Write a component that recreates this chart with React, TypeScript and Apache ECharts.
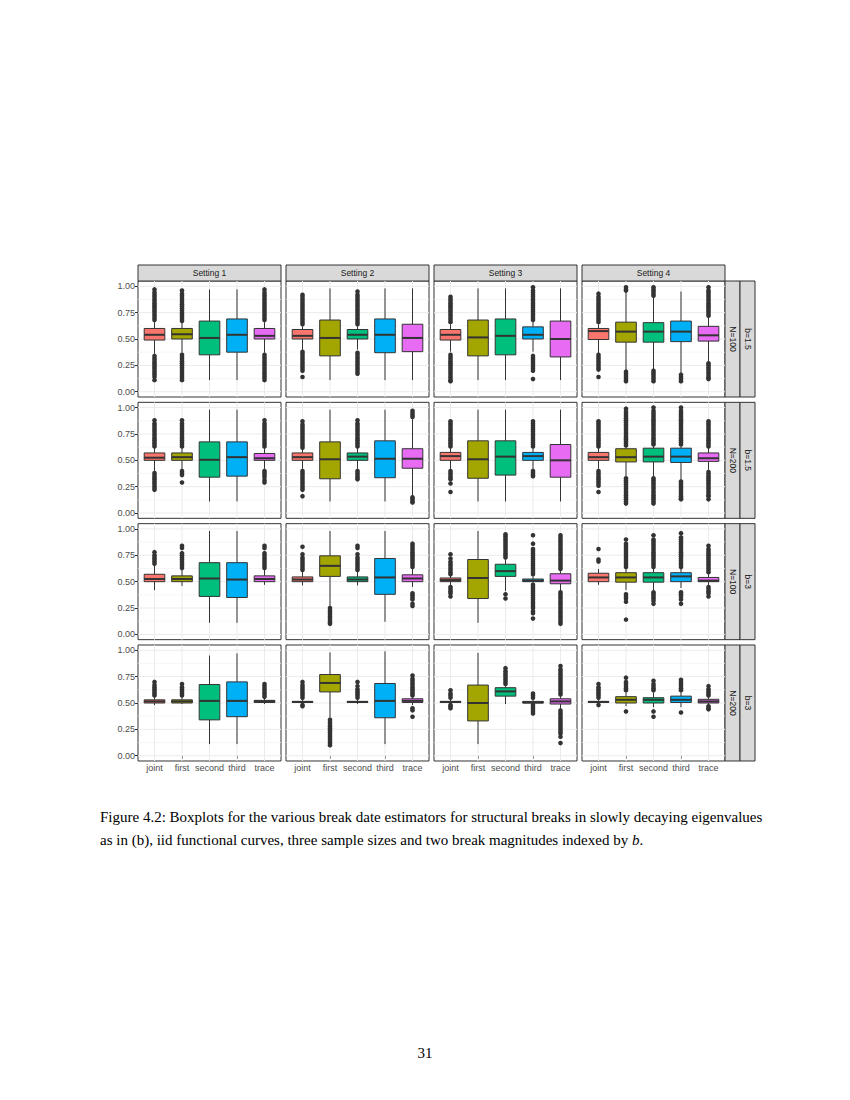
import React, { useEffect, useRef } from "react";
import * as echarts from "echarts";

// ---------- data ----------
const categories = ["joint", "first", "second", "third", "trace"];
const settings = ["Setting 1", "Setting 2", "Setting 3", "Setting 4"];
const sampleSizes = ["N=100", "N=200", "N=100", "N=200"];
const magnitudes = ["b=1.5", "b=1.5", "b=3", "b=3"];
const yTicks = [0, 0.25, 0.5, 0.75, 1];
const yMinorTicks = [0.125, 0.375, 0.625, 0.875];
const fills = ["#F8766D", "#A3A500", "#00BF7D", "#00B0F6", "#E76BF3"];

// box statistics per estimator: [lower whisker, Q1, median, Q3, upper whisker]
const boxR1S1 = [[0.36, 0.49, 0.54, 0.6, 0.66], [0.37, 0.5, 0.545, 0.6, 0.65], [0.11, 0.35, 0.51, 0.67, 0.97], [0.11, 0.375, 0.54, 0.69, 0.97], [0.37, 0.5, 0.53, 0.6, 0.66]];
const boxR1S2 = [[0.4, 0.5, 0.53, 0.59, 0.62], [0.11, 0.34, 0.51, 0.68, 0.98], [0.4, 0.5, 0.54, 0.59, 0.62], [0.11, 0.37, 0.54, 0.69, 0.98], [0.11, 0.38, 0.51, 0.64, 0.98]];
const boxR1S3 = [[0.38, 0.49, 0.54, 0.59, 0.64], [0.11, 0.34, 0.515, 0.68, 0.98], [0.11, 0.35, 0.53, 0.69, 0.98], [0.38, 0.5, 0.54, 0.615, 0.66], [0.11, 0.33, 0.5, 0.67, 0.98]];
const boxR1S4 = [[0.36, 0.495, 0.575, 0.6, 0.64], [0.2, 0.47, 0.57, 0.66, 0.95], [0.21, 0.47, 0.57, 0.655, 0.89], [0.17, 0.475, 0.57, 0.67, 0.95], [0.29, 0.48, 0.535, 0.62, 0.7]];
const boxR2S1 = [[0.4, 0.5, 0.525, 0.57, 0.61], [0.42, 0.5, 0.53, 0.57, 0.61], [0.11, 0.34, 0.505, 0.675, 0.98], [0.11, 0.35, 0.53, 0.675, 0.98], [0.42, 0.5, 0.52, 0.565, 0.61]];
const boxR2S2 = [[0.42, 0.5, 0.53, 0.57, 0.6], [0.11, 0.325, 0.51, 0.675, 0.98], [0.42, 0.5, 0.535, 0.57, 0.61], [0.11, 0.335, 0.515, 0.685, 0.98], [0.16, 0.425, 0.515, 0.61, 0.89]];
const boxR2S3 = [[0.42, 0.5, 0.54, 0.575, 0.61], [0.11, 0.33, 0.51, 0.685, 0.98], [0.11, 0.36, 0.535, 0.685, 0.98], [0.42, 0.5, 0.54, 0.575, 0.61], [0.11, 0.34, 0.5, 0.65, 0.98]];
const boxR2S4 = [[0.42, 0.5, 0.53, 0.575, 0.61], [0.35, 0.485, 0.53, 0.61, 0.62], [0.35, 0.485, 0.535, 0.615, 0.63], [0.32, 0.48, 0.535, 0.615, 0.63], [0.41, 0.49, 0.52, 0.57, 0.61]];
const boxR3S1 = [[0.42, 0.5, 0.525, 0.57, 0.65], [0.46, 0.5, 0.525, 0.555, 0.61], [0.11, 0.36, 0.53, 0.68, 0.98], [0.11, 0.35, 0.52, 0.68, 0.98], [0.47, 0.5, 0.525, 0.555, 0.61]];
const boxR3S2 = [[0.465, 0.5, 0.52, 0.545, 0.59], [0.27, 0.55, 0.65, 0.745, 0.98], [0.465, 0.5, 0.52, 0.545, 0.59], [0.12, 0.38, 0.54, 0.72, 0.98], [0.45, 0.5, 0.53, 0.565, 0.62]];
const boxR3S3 = [[0.47, 0.5, 0.515, 0.535, 0.56], [0.11, 0.34, 0.535, 0.71, 0.98], [0.41, 0.55, 0.6, 0.665, 0.71], [0.48, 0.5, 0.51, 0.525, 0.55], [0.42, 0.48, 0.51, 0.575, 0.6]];
const boxR3S4 = [[0.47, 0.5, 0.54, 0.58, 0.62], [0.42, 0.495, 0.54, 0.585, 0.62], [0.42, 0.495, 0.54, 0.585, 0.62], [0.44, 0.5, 0.55, 0.585, 0.62], [0.47, 0.5, 0.51, 0.54, 0.57]];
const boxR4S1 = [[0.48, 0.5, 0.515, 0.53, 0.55], [0.49, 0.5, 0.515, 0.53, 0.55], [0.11, 0.34, 0.52, 0.675, 0.95], [0.11, 0.37, 0.52, 0.7, 0.97], [0.49, 0.505, 0.515, 0.525, 0.54]];
const boxR4S2 = [[0.49, 0.505, 0.51, 0.515, 0.53], [0.36, 0.605, 0.69, 0.77, 0.98], [0.49, 0.505, 0.51, 0.515, 0.53], [0.11, 0.36, 0.52, 0.685, 0.99], [0.48, 0.505, 0.52, 0.54, 0.55]];
const boxR4S3 = [[0.49, 0.505, 0.51, 0.515, 0.53], [0.11, 0.33, 0.5, 0.67, 0.975], [0.49, 0.565, 0.61, 0.645, 0.66], [0.48, 0.5, 0.505, 0.515, 0.53], [0.45, 0.49, 0.515, 0.54, 0.56]];
const boxR4S4 = [[0.49, 0.505, 0.51, 0.515, 0.53], [0.47, 0.5, 0.53, 0.56, 0.6], [0.46, 0.5, 0.53, 0.55, 0.6], [0.46, 0.505, 0.53, 0.565, 0.6], [0.47, 0.5, 0.515, 0.535, 0.55]];

// outlying points per estimator
const outR1S1 = [
  [0.68, 0.7, 0.72, 0.74, 0.76, 0.78, 0.8, 0.82, 0.84, 0.86, 0.88, 0.9, 0.92, 0.94, 0.97, 0.34, 0.32, 0.3, 0.28, 0.26, 0.24, 0.22, 0.2, 0.18, 0.16, 0.14, 0.11],
  [0.67, 0.69, 0.71, 0.73, 0.75, 0.77, 0.79, 0.81, 0.83, 0.85, 0.87, 0.89, 0.91, 0.93, 0.96, 0.35, 0.33, 0.31, 0.29, 0.27, 0.25, 0.23, 0.21, 0.19, 0.17, 0.15, 0.13, 0.11],
  [],
  [],
  [0.68, 0.7, 0.72, 0.74, 0.76, 0.78, 0.8, 0.82, 0.84, 0.86, 0.88, 0.9, 0.92, 0.94, 0.97, 0.35, 0.33, 0.31, 0.29, 0.27, 0.25, 0.23, 0.21, 0.19, 0.17, 0.15, 0.13, 0.11],
];
const outR1S2 = [
  [0.64, 0.66, 0.68, 0.7, 0.72, 0.74, 0.76, 0.78, 0.8, 0.82, 0.84, 0.86, 0.88, 0.9, 0.92, 0.38, 0.36, 0.34, 0.32, 0.3, 0.28, 0.26, 0.24, 0.22, 0.2, 0.14],
  [],
  [0.64, 0.66, 0.68, 0.7, 0.72, 0.74, 0.76, 0.78, 0.8, 0.82, 0.84, 0.86, 0.88, 0.9, 0.92, 0.95, 0.37, 0.35, 0.33, 0.31, 0.29, 0.27, 0.25, 0.23, 0.21, 0.19, 0.17],
  [],
  [],
];
const outR1S3 = [
  [0.66, 0.68, 0.7, 0.72, 0.74, 0.76, 0.78, 0.8, 0.82, 0.84, 0.86, 0.88, 0.9, 0.35, 0.33, 0.31, 0.29, 0.27, 0.25, 0.23, 0.21, 0.19, 0.17, 0.15, 0.13, 0.11, 0.1],
  [],
  [],
  [0.68, 0.7, 0.72, 0.74, 0.76, 0.78, 0.8, 0.82, 0.84, 0.86, 0.88, 0.9, 0.92, 0.94, 0.96, 0.99, 0.34, 0.32, 0.3, 0.28, 0.26, 0.24, 0.22, 0.2, 0.12],
  [],
];
const outR1S4 = [
  [0.66, 0.68, 0.7, 0.72, 0.74, 0.76, 0.78, 0.8, 0.82, 0.84, 0.86, 0.88, 0.9, 0.93, 0.35, 0.33, 0.31, 0.29, 0.27, 0.25, 0.23, 0.21, 0.14],
  [0.96, 0.97, 0.99, 0.19, 0.17, 0.15, 0.13, 0.11, 0.1],
  [0.91, 0.93, 0.95, 0.97, 0.99, 0.2, 0.18, 0.16, 0.14, 0.12, 0.1],
  [0.16, 0.14, 0.12, 0.1],
  [0.72, 0.74, 0.76, 0.78, 0.8, 0.82, 0.84, 0.86, 0.88, 0.9, 0.92, 0.94, 0.96, 0.99, 0.27, 0.25, 0.23, 0.21, 0.19, 0.17, 0.15, 0.13, 0.12],
];
const outR2S1 = [
  [0.63, 0.65, 0.67, 0.69, 0.71, 0.73, 0.75, 0.77, 0.79, 0.81, 0.83, 0.85, 0.88, 0.38, 0.36, 0.34, 0.32, 0.3, 0.28, 0.26, 0.24, 0.22],
  [0.63, 0.65, 0.67, 0.69, 0.71, 0.73, 0.75, 0.77, 0.79, 0.81, 0.83, 0.85, 0.88, 0.4, 0.38, 0.36, 0.29],
  [],
  [],
  [0.63, 0.65, 0.67, 0.69, 0.71, 0.73, 0.75, 0.77, 0.79, 0.81, 0.83, 0.85, 0.88, 0.4, 0.38, 0.36, 0.34, 0.31, 0.29],
];
const outR2S2 = [
  [0.62, 0.64, 0.66, 0.68, 0.7, 0.72, 0.74, 0.76, 0.78, 0.8, 0.82, 0.84, 0.87, 0.4, 0.38, 0.36, 0.34, 0.32, 0.3, 0.28, 0.26, 0.24, 0.22, 0.16],
  [],
  [0.63, 0.65, 0.67, 0.69, 0.71, 0.73, 0.75, 0.77, 0.79, 0.81, 0.83, 0.85, 0.88, 0.4, 0.38, 0.36, 0.34, 0.32],
  [],
  [0.91, 0.93, 0.95, 0.97, 0.15, 0.13, 0.11, 0.1],
];
const outR2S3 = [
  [0.63, 0.65, 0.67, 0.69, 0.71, 0.73, 0.75, 0.77, 0.79, 0.81, 0.83, 0.85, 0.87, 0.4, 0.38, 0.36, 0.34, 0.32, 0.28, 0.2],
  [],
  [],
  [0.63, 0.65, 0.67, 0.69, 0.71, 0.73, 0.75, 0.77, 0.79, 0.81, 0.83, 0.85, 0.87, 0.4, 0.38, 0.36, 0.35],
  [],
];
const outR2S4 = [
  [0.63, 0.65, 0.67, 0.69, 0.71, 0.73, 0.75, 0.77, 0.79, 0.81, 0.83, 0.85, 0.87, 0.4, 0.38, 0.36, 0.34, 0.32, 0.3, 0.28, 0.26, 0.2],
  [0.64, 0.66, 0.68, 0.7, 0.72, 0.74, 0.76, 0.78, 0.8, 0.82, 0.84, 0.86, 0.88, 0.9, 0.92, 0.94, 0.96, 0.99, 0.33, 0.31, 0.29, 0.27, 0.25, 0.23, 0.21, 0.19, 0.17, 0.15, 0.13, 0.11, 0.09],
  [0.65, 0.67, 0.69, 0.71, 0.73, 0.75, 0.77, 0.79, 0.81, 0.83, 0.85, 0.87, 0.89, 0.91, 0.93, 0.95, 0.97, 1.0, 0.33, 0.31, 0.29, 0.27, 0.25, 0.23, 0.21, 0.19, 0.17, 0.15, 0.13, 0.11, 0.09],
  [0.65, 0.67, 0.69, 0.71, 0.73, 0.75, 0.77, 0.79, 0.81, 0.83, 0.85, 0.87, 0.89, 0.91, 0.93, 0.95, 0.97, 1.0, 0.3, 0.28, 0.26, 0.24, 0.22, 0.2, 0.18, 0.16, 0.14, 0.13],
  [0.63, 0.65, 0.67, 0.69, 0.71, 0.73, 0.75, 0.77, 0.79, 0.81, 0.83, 0.85, 0.87, 0.39, 0.37, 0.35, 0.33, 0.31, 0.29, 0.27, 0.25, 0.23, 0.21, 0.19, 0.17, 0.16, 0.13],
];
const outR3S1 = [
  [0.67, 0.69, 0.71, 0.73, 0.75, 0.78],
  [0.63, 0.65, 0.67, 0.69, 0.71, 0.73, 0.75, 0.77, 0.82, 0.84],
  [],
  [],
  [0.63, 0.65, 0.67, 0.69, 0.71, 0.73, 0.75, 0.77, 0.82, 0.84],
];
const outR3S2 = [
  [0.61, 0.63, 0.65, 0.67, 0.69, 0.71, 0.73, 0.76, 0.83],
  [0.25, 0.23, 0.21, 0.19, 0.17, 0.15, 0.13, 0.11, 0.1],
  [0.61, 0.63, 0.65, 0.67, 0.69, 0.71, 0.73, 0.76, 0.82, 0.84],
  [],
  [0.64, 0.66, 0.68, 0.7, 0.72, 0.74, 0.76, 0.78, 0.8, 0.82, 0.84, 0.86, 0.39, 0.37, 0.35, 0.33, 0.29, 0.27],
];
const outR3S3 = [
  [0.57, 0.59, 0.61, 0.63, 0.65, 0.67, 0.69, 0.72, 0.76, 0.45, 0.43, 0.41, 0.39, 0.36],
  [],
  [0.73, 0.75, 0.77, 0.79, 0.81, 0.83, 0.85, 0.87, 0.89, 0.91, 0.93, 0.95, 0.38, 0.34],
  [0.57, 0.59, 0.61, 0.63, 0.65, 0.67, 0.69, 0.71, 0.73, 0.75, 0.77, 0.79, 0.81, 0.86, 0.94, 0.47, 0.45, 0.43, 0.41, 0.39, 0.37, 0.35, 0.33, 0.31, 0.29, 0.27, 0.25, 0.22, 0.2, 0.15],
  [0.62, 0.64, 0.66, 0.68, 0.7, 0.72, 0.74, 0.76, 0.78, 0.8, 0.82, 0.84, 0.86, 0.88, 0.9, 0.92, 0.94, 0.4, 0.38, 0.36, 0.34, 0.32, 0.3, 0.28, 0.26, 0.24, 0.22, 0.2, 0.18, 0.16, 0.14, 0.12, 0.1],
];
const outR3S4 = [
  [0.69, 0.71, 0.81],
  [0.64, 0.66, 0.68, 0.7, 0.72, 0.74, 0.76, 0.78, 0.8, 0.82, 0.84, 0.86, 0.9, 0.38, 0.36, 0.34, 0.31, 0.14],
  [0.64, 0.66, 0.68, 0.7, 0.72, 0.74, 0.76, 0.78, 0.8, 0.82, 0.84, 0.86, 0.88, 0.9, 0.94, 0.4, 0.38, 0.36, 0.34, 0.32, 0.29],
  [0.64, 0.66, 0.68, 0.7, 0.72, 0.74, 0.76, 0.78, 0.8, 0.82, 0.84, 0.86, 0.88, 0.9, 0.92, 0.96, 0.4, 0.38, 0.36, 0.33, 0.29],
  [0.59, 0.61, 0.63, 0.65, 0.67, 0.69, 0.71, 0.73, 0.75, 0.77, 0.79, 0.81, 0.84, 0.45, 0.43, 0.41, 0.39, 0.36],
];
const outR4S1 = [
  [0.57, 0.59, 0.61, 0.63, 0.65, 0.67, 0.7],
  [0.57, 0.59, 0.61, 0.63, 0.65, 0.68],
  [],
  [],
  [0.56, 0.58, 0.6, 0.62, 0.64, 0.66, 0.68],
];
const outR4S2 = [
  [0.55, 0.57, 0.59, 0.61, 0.63, 0.65, 0.67, 0.7, 0.48, 0.47],
  [0.34, 0.32, 0.3, 0.28, 0.26, 0.24, 0.22, 0.2, 0.18, 0.16, 0.14, 0.12, 0.1],
  [0.55, 0.57, 0.59, 0.61, 0.63, 0.66, 0.7],
  [],
  [0.57, 0.59, 0.61, 0.63, 0.65, 0.67, 0.69, 0.71, 0.73, 0.76, 0.45, 0.43, 0.37],
];
const outR4S3 = [
  [0.55, 0.57, 0.59, 0.62, 0.48, 0.47, 0.45],
  [],
  [0.68, 0.7, 0.72, 0.74, 0.76, 0.78, 0.8, 0.83],
  [0.55, 0.57, 0.59, 0.48, 0.46, 0.44, 0.42, 0.4],
  [0.58, 0.6, 0.62, 0.64, 0.66, 0.68, 0.7, 0.72, 0.74, 0.76, 0.78, 0.8, 0.82, 0.85, 0.43, 0.41, 0.39, 0.37, 0.35, 0.33, 0.31, 0.29, 0.27, 0.25, 0.23, 0.21, 0.18, 0.12],
];
const outR4S4 = [
  [0.55, 0.57, 0.59, 0.61, 0.63, 0.65, 0.68, 0.48],
  [0.62, 0.64, 0.66, 0.68, 0.7, 0.74, 0.42],
  [0.62, 0.64, 0.66, 0.68, 0.71, 0.42, 0.37],
  [0.62, 0.64, 0.66, 0.68, 0.7, 0.72, 0.41],
  [0.57, 0.59, 0.61, 0.63, 0.66, 0.47, 0.45, 0.44],
];

const boxPanels = [
  [boxR1S1, boxR1S2, boxR1S3, boxR1S4],
  [boxR2S1, boxR2S2, boxR2S3, boxR2S4],
  [boxR3S1, boxR3S2, boxR3S3, boxR3S4],
  [boxR4S1, boxR4S2, boxR4S3, boxR4S4],
];
const outlierPanels = [
  [outR1S1, outR1S2, outR1S3, outR1S4],
  [outR2S1, outR2S2, outR2S3, outR2S4],
  [outR3S1, outR3S2, outR3S3, outR3S4],
  [outR4S1, outR4S2, outR4S3, outR4S4],
];

const captionLine1 =
  "Figure 4.2: Boxplots for the various break date estimators for structural breaks in slowly decaying eigenvalues";
const captionLine2 =
  "as in (b), iid functional curves, three sample sizes and two break magnitudes indexed by {it|b}.";
const pageNumber = "31";

// ---------- layout ----------
const L0 = 138;
const PW = 143;
const DX = 148;
const T0 = 281;
const PH = 116;
const DY = 121.33;
const STRIP_TOP = 265;
const STRIP_H = 16;
const RSTRIP_X = 725;
const RSTRIP_W = 15;
const AXIS_FONT = 9;
const STRIP_FONT = 8.5;
const CAPTION_FONT = 15;
const SANS = "Liberation Sans, Arial, Helvetica, sans-serif";
const SERIF = "Liberation Serif, Times New Roman, serif";

function buildOption() {
  const grid: any[] = [];
  const xAxis: any[] = [];
  const yAxis: any[] = [];
  const series: any[] = [];
  const graphic: any[] = [];

  for (let r = 0; r < 4; r++) {
    for (let c = 0; c < 4; c++) {
      const idx = r * 4 + c;
      const bottom = r === 3;
      const leftCol = c === 0;
      grid.push({
        left: L0 + c * DX,
        top: T0 + r * DY,
        width: PW,
        height: PH,
        show: true,
        backgroundColor: "#FFFFFF",
        borderColor: "#333333",
        borderWidth: 1,
        containLabel: false,
        outerBoundsMode: "none",
      });
      xAxis.push({
        type: "value",
        gridIndex: idx,
        min: 0.4,
        max: 5.6,
        splitLine: { show: false },
        axisLine: { show: false },
        axisTick: {
          show: bottom,
          customValues: [1, 2, 3, 4, 5],
          length: 3,
          lineStyle: { color: "#333333", width: 1 },
        },
        axisLabel: {
          show: bottom,
          customValues: [1, 2, 3, 4, 5],
          formatter: (v: number) => categories[Math.round(v) - 1] || "",
          color: "#4D4D4D",
          fontSize: AXIS_FONT,
          fontFamily: SANS,
          margin: 3,
        },
      });
      yAxis.push({
        type: "value",
        gridIndex: idx,
        min: -0.05,
        max: 1.05,
        splitLine: { show: false },
        axisLine: { show: false },
        axisTick: {
          show: leftCol,
          customValues: yTicks,
          length: 3,
          lineStyle: { color: "#333333", width: 1 },
        },
        axisLabel: {
          show: leftCol,
          customValues: yTicks,
          formatter: (v: number) => v.toFixed(2),
          color: "#4D4D4D",
          fontSize: AXIS_FONT,
          fontFamily: SANS,
          margin: 3,
        },
      });

      // grid lines (major & minor) through the axes' scales
      const gridData: number[][] = [];
      yTicks.forEach((v) => gridData.push([0, v]));
      yMinorTicks.forEach((v) => gridData.push([2, v]));
      categories.forEach((_, i) => gridData.push([1, i + 1]));
      series.push({
        type: "custom",
        xAxisIndex: idx,
        yAxisIndex: idx,
        silent: true,
        z: 1,
        data: gridData,
        renderItem: (params: any, api: any) => {
          const kind = api.value(0);
          const v = api.value(1);
          const cs = params.coordSys;
          if (kind === 1) {
            const x = api.coord([v, 0.5])[0];
            return {
              type: "line",
              shape: { x1: x, y1: cs.y, x2: x, y2: cs.y + cs.height },
              style: { stroke: "#EBEBEB", lineWidth: 1 },
            };
          }
          const y = api.coord([1, v])[1];
          return {
            type: "line",
            shape: { x1: cs.x, y1: y, x2: cs.x + cs.width, y2: y },
            style: { stroke: kind === 0 ? "#EBEBEB" : "#F2F2F2", lineWidth: kind === 0 ? 1 : 0.7 },
          };
        },
      });

      // boxes
      const stats = boxPanels[r][c];
      series.push({
        type: "custom",
        xAxisIndex: idx,
        yAxisIndex: idx,
        silent: true,
        z: 3,
        encode: { x: 0, y: [1, 2, 3, 4, 5] },
        data: stats.map((s, i) => [i + 1, s[0], s[1], s[2], s[3], s[4]]),
        renderItem: (params: any, api: any) => {
          const x = api.value(0);
          const lo = api.coord([x, api.value(1)]);
          const q1 = api.coord([x, api.value(2)]);
          const md = api.coord([x, api.value(3)]);
          const q3 = api.coord([x, api.value(4)]);
          const hi = api.coord([x, api.value(5)]);
          const w = api.size([0.75, 0])[0];
          const cx = lo[0];
          const stroke = { stroke: "#333333", lineWidth: 1 };
          return {
            type: "group",
            children: [
              { type: "line", shape: { x1: cx, y1: hi[1], x2: cx, y2: q3[1] }, style: stroke },
              { type: "line", shape: { x1: cx, y1: q1[1], x2: cx, y2: lo[1] }, style: stroke },
              {
                type: "rect",
                shape: { x: cx - w / 2, y: q3[1], width: w, height: q1[1] - q3[1] },
                style: { fill: fills[params.dataIndex], stroke: "#333333", lineWidth: 1 },
              },
              {
                type: "line",
                shape: { x1: cx - w / 2, y1: md[1], x2: cx + w / 2, y2: md[1] },
                style: { stroke: "#333333", lineWidth: 2 },
              },
            ],
          };
        },
      });

      // outliers
      const outs = outlierPanels[r][c];
      const pts: number[][] = [];
      outs.forEach((list, i) => list.forEach((v) => pts.push([i + 1, v])));
      series.push({
        type: "scatter",
        xAxisIndex: idx,
        yAxisIndex: idx,
        silent: true,
        z: 4,
        symbol: "circle",
        symbolSize: 4.6,
        itemStyle: { color: "#333333", opacity: 1 },
        data: pts,
      });
    }
  }

  // top strips
  settings.forEach((s, c) => {
    const x = L0 + c * DX;
    graphic.push({
      type: "rect",
      shape: { x, y: STRIP_TOP, width: PW, height: STRIP_H },
      style: { fill: "#D9D9D9", stroke: "#333333", lineWidth: 1 },
      silent: true,
    });
    graphic.push({
      type: "text",
      x: x + PW / 2,
      y: STRIP_TOP + STRIP_H / 2,
      style: {
        text: s,
        fill: "#1A1A1A",
        fontSize: STRIP_FONT,
        fontFamily: SANS,
        textAlign: "center",
        textVerticalAlign: "middle",
      },
      silent: true,
    });
  });

  // right strips
  for (let r = 0; r < 4; r++) {
    const y = T0 + r * DY;
    [sampleSizes[r], magnitudes[r]].forEach((label, k) => {
      const x = RSTRIP_X + k * RSTRIP_W;
      graphic.push({
        type: "rect",
        shape: { x, y, width: RSTRIP_W, height: PH },
        style: { fill: "#D9D9D9", stroke: "#333333", lineWidth: 1 },
        silent: true,
      });
      graphic.push({
        type: "text",
        x: x + RSTRIP_W / 2,
        y: y + PH / 2,
        rotation: -Math.PI / 2,
        style: {
          text: label,
          fill: "#1A1A1A",
          fontSize: STRIP_FONT,
          fontFamily: SANS,
          textAlign: "center",
          textVerticalAlign: "middle",
        },
        silent: true,
      });
    });
  }

  // caption
  graphic.push({
    type: "text",
    x: 100,
    y: 817,
    style: {
      text: captionLine1,
      fill: "#000000",
      fontSize: CAPTION_FONT,
      fontFamily: SERIF,
      textAlign: "left",
      textVerticalAlign: "middle",
    },
    silent: true,
  });
  graphic.push({
    type: "text",
    x: 100,
    y: 840,
    style: {
      text: captionLine2,
      fill: "#000000",
      fontSize: CAPTION_FONT,
      fontFamily: SERIF,
      textAlign: "left",
      textVerticalAlign: "middle",
      rich: {
        it: { fontStyle: "italic", fontSize: CAPTION_FONT, fontFamily: SERIF, fill: "#000000" },
      },
    },
    silent: true,
  });
  graphic.push({
    type: "text",
    x: 425,
    y: 1053,
    style: {
      text: pageNumber,
      fill: "#000000",
      fontSize: CAPTION_FONT,
      fontFamily: SERIF,
      textAlign: "center",
      textVerticalAlign: "middle",
    },
    silent: true,
  });

  return {
    animation: false,
    backgroundColor: "#FFFFFF",
    tooltip: { show: false },
    grid,
    xAxis,
    yAxis,
    series,
    graphic,
  };
}

export default function App() {
  const ref = useRef<HTMLDivElement>(null);
  useEffect(() => {
    document.body.style.margin = "0";
    if (!ref.current) return;
    const chart = echarts.init(ref.current, null, { renderer: "svg" });
    chart.setOption(buildOption() as any);
    return () => chart.dispose();
  }, []);
  return <div ref={ref} style={{ width: 850, height: 1100, background: "#FFFFFF" }} />;
}
